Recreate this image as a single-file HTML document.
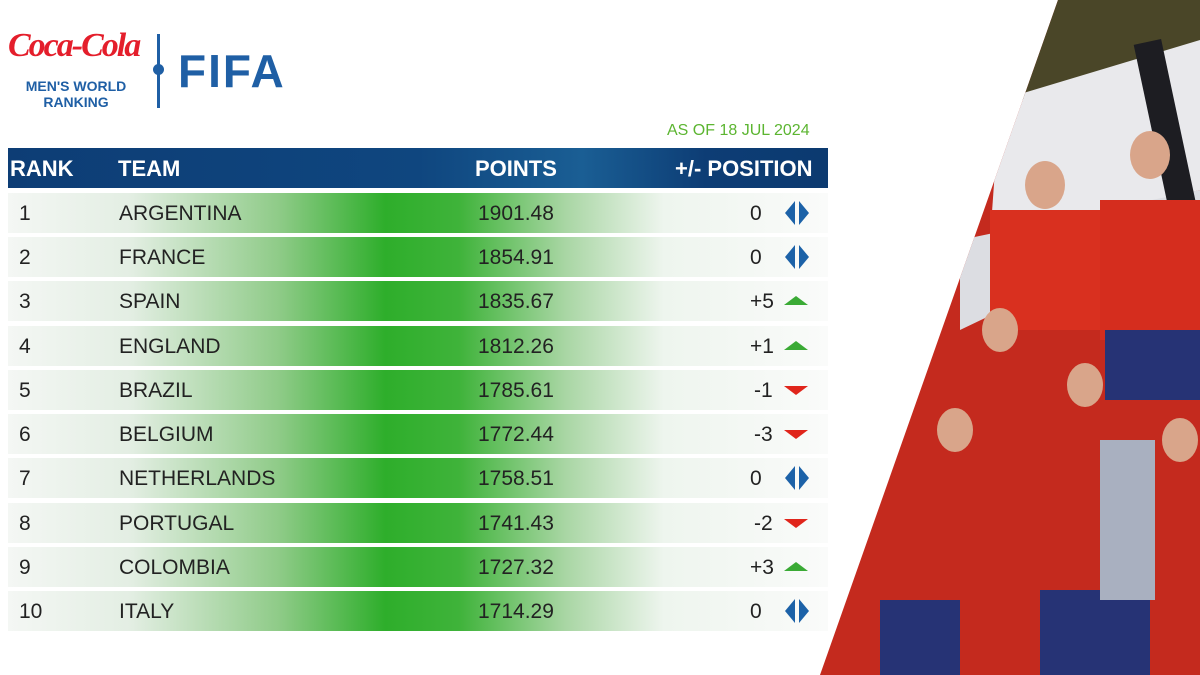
<!DOCTYPE html>
<html><head><meta charset="utf-8"><style>
body{margin:0;width:1200px;height:675px;background:#fff;position:relative;overflow:hidden;font-family:"Liberation Sans",sans-serif}
.abs{position:absolute}
.hdr{left:8px;top:148px;width:820px;height:40px;background:linear-gradient(90deg,#0d3d75 0%,#0f467f 50%,#1a5e94 70%,#0d3d75 85%,#0c3a70 100%);color:#fff;font-weight:bold;font-size:22px}
.hdr span{position:absolute;top:8px}
.row{left:8px;width:820px;height:40px;background:linear-gradient(90deg,#f4f7f4 0%,#e3eee3 15%,#8fcb88 33%,#2eae2b 46%,#3fb33a 55%,#a9d6a4 68%,#eef5ee 80%,#fafbfa 100%);font-size:21px;color:#222}
.row span{position:absolute;top:9px}
.up{width:0;height:0;border-left:12px solid transparent;border-right:12px solid transparent;border-bottom:9px solid #3aaa35;position:absolute;left:776px;top:15px}
.dn{width:0;height:0;border-left:12px solid transparent;border-right:12px solid transparent;border-top:9px solid #e0251b;position:absolute;left:776px;top:16px}
.eq{position:absolute;left:776px;top:7px}
</style></head><body>
<div class="abs" style="left:8px;top:27px;font-family:'Liberation Serif',serif;font-style:italic;font-weight:bold;color:#e41e2b;font-size:34px;letter-spacing:-2px">Coca-Cola</div>
<div class="abs" style="left:20px;top:78px;color:#1f5fa5;font-weight:bold;font-size:14px;line-height:16px;text-align:center;width:112px">MEN'S WORLD<br>RANKING</div>
<div class="abs" style="left:157px;top:34px;width:3px;height:74px;background:#1f5fa5"></div>
<div class="abs" style="left:153px;top:64px;width:11px;height:11px;border-radius:50%;background:#1f5fa5"></div>
<div class="abs" style="left:178px;top:44px;color:#1f5fa5;font-weight:900;font-size:46px;letter-spacing:2px">FIFA</div>
<div class="abs" style="left:667px;top:122px;color:#5cb531;font-size:16px">AS OF 18 JUL 2024</div>
<div class="abs hdr"><span style="left:2px">RANK</span><span style="left:110px">TEAM</span><span style="left:467px">POINTS</span><span style="left:667px">+/- POSITION</span></div>

<div class="abs row" style="top:193px"><span style="left:11px">1</span><span style="left:111px">ARGENTINA</span><span style="left:470px">1901.48</span><span style="left:742px">0</span><svg class="eq" width="26" height="26"><polygon points="11,1 11,25 1,13" fill="#1c62a8"/><polygon points="15,1 15,25 25,13" fill="#1c62a8"/></svg></div>
<div class="abs row" style="top:237px"><span style="left:11px">2</span><span style="left:111px">FRANCE</span><span style="left:470px">1854.91</span><span style="left:742px">0</span><svg class="eq" width="26" height="26"><polygon points="11,1 11,25 1,13" fill="#1c62a8"/><polygon points="15,1 15,25 25,13" fill="#1c62a8"/></svg></div>
<div class="abs row" style="top:281px"><span style="left:11px">3</span><span style="left:111px">SPAIN</span><span style="left:470px">1835.67</span><span style="left:742px">+5</span><div class="up"></div></div>
<div class="abs row" style="top:326px"><span style="left:11px">4</span><span style="left:111px">ENGLAND</span><span style="left:470px">1812.26</span><span style="left:742px">+1</span><div class="up"></div></div>
<div class="abs row" style="top:370px"><span style="left:11px">5</span><span style="left:111px">BRAZIL</span><span style="left:470px">1785.61</span><span style="left:746px">-1</span><div class="dn"></div></div>
<div class="abs row" style="top:414px"><span style="left:11px">6</span><span style="left:111px">BELGIUM</span><span style="left:470px">1772.44</span><span style="left:746px">-3</span><div class="dn"></div></div>
<div class="abs row" style="top:458px"><span style="left:11px">7</span><span style="left:111px">NETHERLANDS</span><span style="left:470px">1758.51</span><span style="left:742px">0</span><svg class="eq" width="26" height="26"><polygon points="11,1 11,25 1,13" fill="#1c62a8"/><polygon points="15,1 15,25 25,13" fill="#1c62a8"/></svg></div>
<div class="abs row" style="top:503px"><span style="left:11px">8</span><span style="left:111px">PORTUGAL</span><span style="left:470px">1741.43</span><span style="left:746px">-2</span><div class="dn"></div></div>
<div class="abs row" style="top:547px"><span style="left:11px">9</span><span style="left:111px">COLOMBIA</span><span style="left:470px">1727.32</span><span style="left:742px">+3</span><div class="up"></div></div>
<div class="abs row" style="top:591px"><span style="left:11px">10</span><span style="left:111px">ITALY</span><span style="left:470px">1714.29</span><span style="left:742px">0</span><svg class="eq" width="26" height="26"><polygon points="11,1 11,25 1,13" fill="#1c62a8"/><polygon points="15,1 15,25 25,13" fill="#1c62a8"/></svg></div>

<svg class="abs" style="left:0;top:0" width="1200" height="675">
<defs><clipPath id="c"><polygon points="1058,0 1200,0 1200,675 820,675"/></clipPath></defs>
<g clip-path="url(#c)">
<rect x="800" y="0" width="400" height="675" fill="#c42a1e"/>
<rect x="800" y="0" width="400" height="100" fill="#4a4628"/>
<polygon points="1000,100 1200,40 1200,190 990,240" fill="#e9e9ec"/>
<polygon points="960,240 1200,190 1200,215 960,330" fill="#dcdde2"/>
<rect x="1150" y="40" width="28" height="180" fill="#1d1d22" transform="rotate(-12 1165 120)"/>
<rect x="990" y="210" width="110" height="120" fill="#d9301f"/>
<rect x="1100" y="200" width="100" height="140" fill="#d52d1e"/>
<rect x="1105" y="330" width="95" height="70" fill="#263375"/>
<rect x="880" y="600" width="80" height="75" fill="#263375"/>
<rect x="1040" y="590" width="110" height="85" fill="#263375"/>
<rect x="1100" y="440" width="55" height="160" fill="#a9b0c0"/>
<ellipse cx="1045" cy="185" rx="20" ry="24" fill="#d9a58a"/>
<ellipse cx="1150" cy="155" rx="20" ry="24" fill="#d9a58a"/>
<ellipse cx="1000" cy="330" rx="18" ry="22" fill="#d9a58a"/>
<ellipse cx="1085" cy="385" rx="18" ry="22" fill="#d9a58a"/>
<ellipse cx="955" cy="430" rx="18" ry="22" fill="#d9a58a"/>
<ellipse cx="1180" cy="440" rx="18" ry="22" fill="#d9a58a"/>
</g>
</svg>
</body></html>
